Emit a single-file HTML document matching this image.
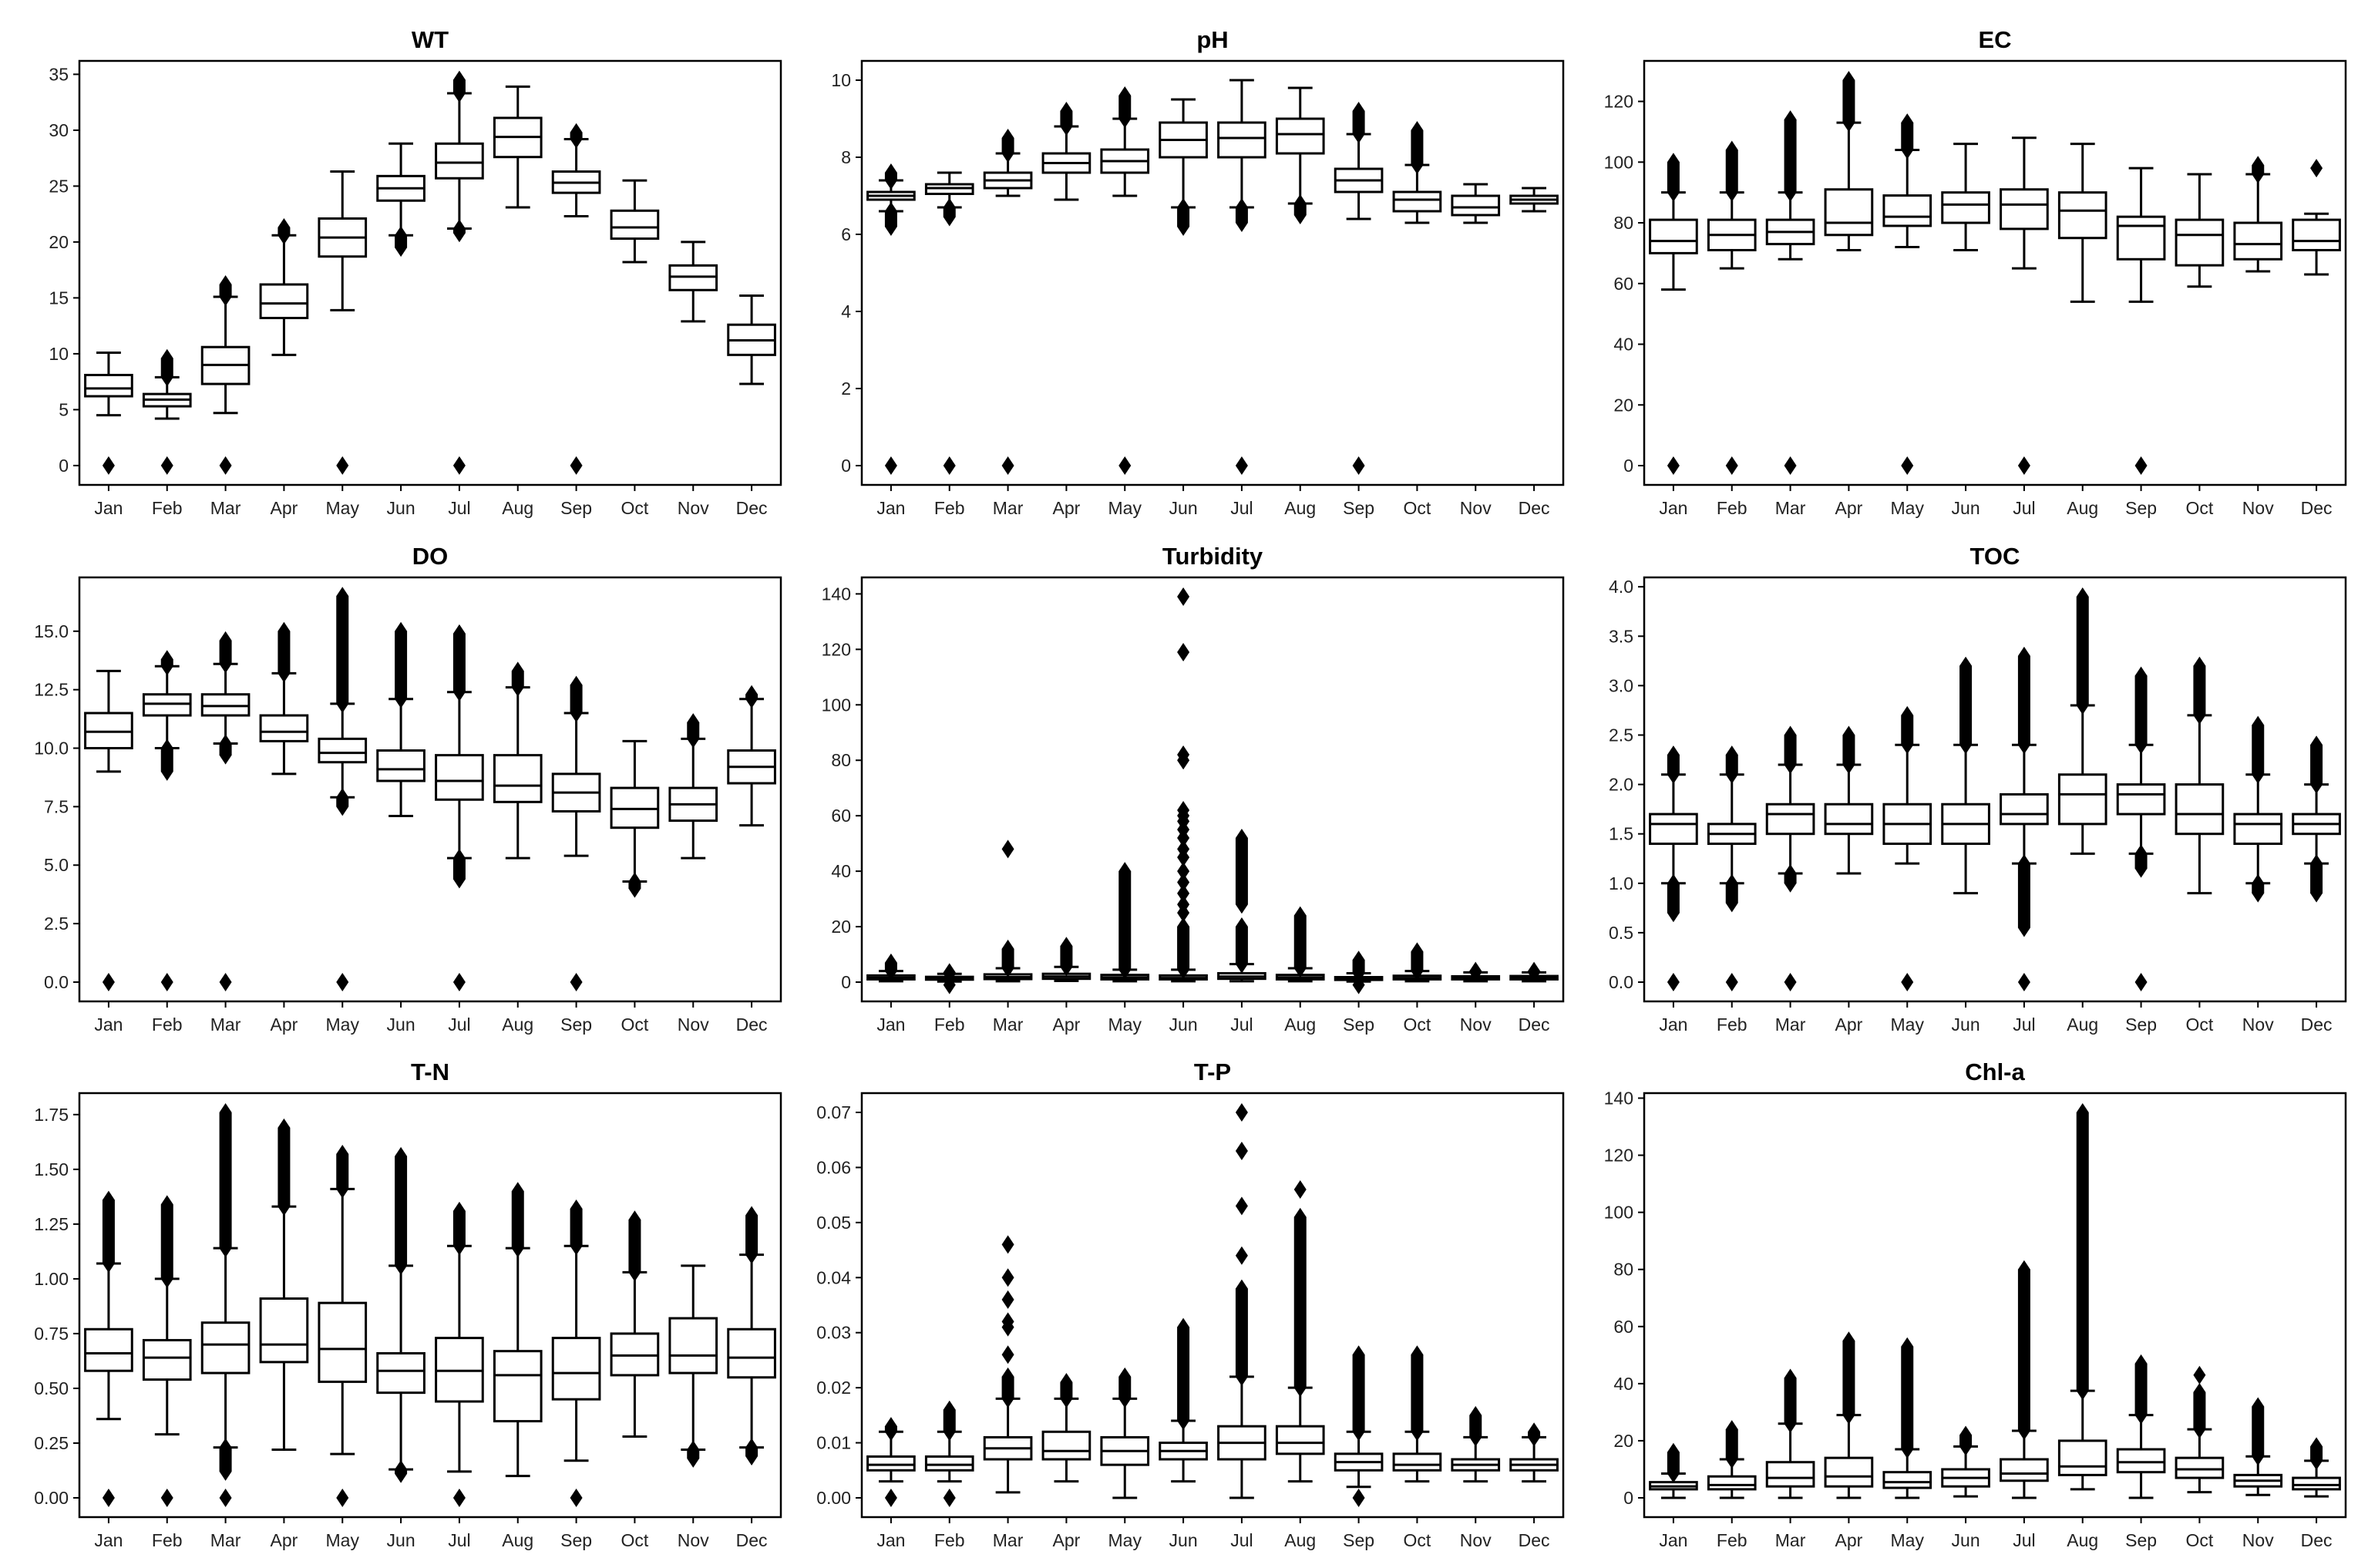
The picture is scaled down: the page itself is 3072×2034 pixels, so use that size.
<!DOCTYPE html>
<html><head><meta charset="utf-8">
<style>
html,body{margin:0;padding:0;background:#fff;}
svg{display:block;font-family:"Liberation Sans","DejaVu Sans",sans-serif;}
</style></head>
<body>
<svg id="fig" width="3072" height="2034" viewBox="0 0 3072 2034" xmlns="http://www.w3.org/2000/svg"></svg>
<script>
const months = ["Jan","Feb","Mar","Apr","May","Jun","Jul","Aug","Sep","Oct","Nov","Dec"];

// WT
const wtLo  = [4.5,4.2,4.7,9.9,13.9,20.6,21.2,23.1,22.3,18.2,12.9,7.3];
const wtQ1  = [6.2,5.3,7.3,13.2,18.7,23.7,25.7,27.6,24.4,20.3,15.7,9.9];
const wtMed = [6.9,5.9,9.0,14.5,20.4,24.8,27.1,29.4,25.3,21.3,16.9,11.2];
const wtQ3  = [8.1,6.4,10.6,16.2,22.1,25.9,28.8,31.1,26.3,22.8,17.9,12.6];
const wtHi  = [10.1,7.9,15.1,20.6,26.3,28.8,33.3,33.9,29.2,25.5,20.0,15.2];
const wtOutHi = [null,9.6,16.2,21.3,null,null,34.5,null,29.8,null,null,null];
const wtOutLo = [null,null,null,null,null,19.5,20.8,null,null,null,null,null];
const wtPoints = [[0,0],[1,0],[2,0],[4,0],[6,0],[8,0]];
const wtTicks = [0,5,10,15,20,25,30,35];
const wtTickLabels = ["0","5","10","15","20","25","30","35"];

// pH
const phLo  = [6.6,6.7,7.0,6.9,7.0,6.7,6.7,6.8,6.4,6.3,6.3,6.6];
const phQ1  = [6.9,7.05,7.2,7.6,7.6,8.0,8.0,8.1,7.1,6.6,6.5,6.8];
const phMed = [7.0,7.2,7.4,7.85,7.9,8.45,8.5,8.6,7.4,6.9,6.7,6.9];
const phQ3  = [7.1,7.3,7.6,8.1,8.2,8.9,8.9,9.0,7.7,7.1,7.0,7.0];
const phHi  = [7.4,7.6,8.1,8.8,9.0,9.5,10.0,9.8,8.6,7.8,7.3,7.2];
const phOutHi = [7.6,null,8.5,9.2,9.6,null,null,null,9.2,8.7,null,null];
const phOutLo = [6.2,6.45,null,null,null,6.2,6.3,6.5,null,null,null,null];
const phPoints = [[0,0],[1,0],[2,0],[4,0],[6,0],[8,0]];
const phTicks = [0,2,4,6,8,10];
const phTickLabels = ["0","2","4","6","8","10"];

// EC
const ecLo  = [58,65,68,71,72,71,65,54,54,59,64,63];
const ecQ1  = [70,71,73,76,79,80,78,75,68,66,68,71];
const ecMed = [74,76,77,80,82,86,86,84,79,76,73,74];
const ecQ3  = [81,81,81,91,89,90,91,90,82,81,80,81];
const ecHi  = [90,90,90,113,104,106,108,106,98,96,96,83];
const ecOutHi = [100,104,114,127,113,null,null,null,null,null,99,null];
const ecOutLo = [null,null,null,null,null,null,null,null,null,null,null,null];
const ecPoints = [[0,0],[1,0],[2,0],[4,0],[6,0],[8,0],[11,98]];
const ecTicks = [0,20,40,60,80,100,120];
const ecTickLabels = ["0","20","40","60","80","100","120"];

// DO
const doLo  = [9.0,10.0,10.2,8.9,7.9,7.1,5.3,5.3,5.4,4.3,5.3,6.7];
const doQ1  = [10.0,11.4,11.4,10.3,9.4,8.6,7.8,7.7,7.3,6.6,6.9,8.5];
const doMed = [10.7,11.9,11.8,10.7,9.8,9.1,8.6,8.4,8.1,7.4,7.6,9.2];
const doQ3  = [11.5,12.3,12.3,11.4,10.4,9.9,9.7,9.7,8.9,8.3,8.3,9.9];
const doHi  = [13.3,13.5,13.6,13.2,11.9,12.1,12.4,12.6,11.5,10.3,10.4,12.1];
const doOutHi = [null,13.8,14.6,15.0,16.5,15.0,14.9,13.3,12.7,null,11.1,12.3];
const doOutLo = [null,9.0,9.7,null,7.5,null,4.4,null,null,4.0,null,null];
const doPoints = [[0,0],[1,0],[2,0],[4,0],[6,0],[8,0]];
const doTicks = [0,2.5,5,7.5,10,12.5,15];
const doTickLabels = ["0.0","2.5","5.0","7.5","10.0","12.5","15.0"];

// Turbidity
const tbLo  = [0.3,0.2,0.3,0.4,0.3,0.3,0.3,0.3,0.2,0.3,0.3,0.3];
const tbQ1  = [1.0,0.9,1.1,1.2,1.0,1.0,1.2,1.0,0.8,1.0,1.0,1.0];
const tbMed = [1.6,1.3,1.8,2.0,1.7,1.5,2.0,1.7,1.2,1.5,1.4,1.5];
const tbQ3  = [2.4,1.9,2.8,3.0,2.6,2.4,3.2,2.6,1.8,2.3,2.1,2.2];
const tbHi  = [4.0,3.0,5.0,5.5,4.5,4.5,6.5,5.0,3.2,4.0,3.5,3.5];
const tbOutHi = [7,3.5,12,13,40,20,20,24,8,11,4,4];
const tbOutLo = [null,null,null,null,null,null,null,null,null,null,null,null];
const tbPoints = [[1,-1],[8,-1],[2,48],[5,25],[5,28],[5,32],[5,36],[5,40],[5,45],[5,48],[5,52],[5,55],[5,58],[5,60],[5,62],[5,80],[5,82],[5,119],[5,139]];
const tbRanges = [[6,28,52]];
const tbTicks = [0,20,40,60,80,100,120,140];
const tbTickLabels = ["0","20","40","60","80","100","120","140"];

// TOC
const tocLo  = [1.0,1.0,1.1,1.1,1.2,0.9,1.2,1.3,1.3,0.9,1.0,1.2];
const tocQ1  = [1.4,1.4,1.5,1.5,1.4,1.4,1.6,1.6,1.7,1.5,1.4,1.5];
const tocMed = [1.6,1.5,1.7,1.6,1.6,1.6,1.7,1.9,1.9,1.7,1.6,1.6];
const tocQ3  = [1.7,1.6,1.8,1.8,1.8,1.8,1.9,2.1,2.0,2.0,1.7,1.7];
const tocHi  = [2.1,2.1,2.2,2.2,2.4,2.4,2.4,2.8,2.4,2.7,2.1,2.0];
const tocOutHi = [2.3,2.3,2.5,2.5,2.7,3.2,3.3,3.9,3.1,3.2,2.6,2.4];
const tocOutLo = [0.7,0.8,1.0,null,null,null,0.55,null,1.15,null,0.9,0.9];
const tocPoints = [[0,0],[1,0],[2,0],[4,0],[6,0],[8,0]];
const tocTicks = [0,0.5,1,1.5,2,2.5,3,3.5,4];
const tocTickLabels = ["0.0","0.5","1.0","1.5","2.0","2.5","3.0","3.5","4.0"];

// T-N
const tnLo  = [0.36,0.29,0.23,0.22,0.20,0.13,0.12,0.10,0.17,0.28,0.22,0.23];
const tnQ1  = [0.58,0.54,0.57,0.62,0.53,0.48,0.44,0.35,0.45,0.56,0.57,0.55];
const tnMed = [0.66,0.64,0.70,0.70,0.68,0.58,0.58,0.56,0.57,0.65,0.65,0.64];
const tnQ3  = [0.77,0.72,0.80,0.91,0.89,0.66,0.73,0.67,0.73,0.75,0.82,0.77];
const tnHi  = [1.07,1.00,1.14,1.33,1.41,1.06,1.15,1.14,1.15,1.03,1.06,1.11];
const tnOutHi = [1.36,1.34,1.76,1.69,1.57,1.56,1.31,1.40,1.32,1.27,null,1.29];
const tnOutLo = [null,null,0.12,null,null,0.11,null,null,null,null,0.18,0.19];
const tnPoints = [[0,0],[1,0],[2,0],[4,0],[6,0],[8,0]];
const tnTicks = [0,0.25,0.5,0.75,1,1.25,1.5,1.75];
const tnTickLabels = ["0.00","0.25","0.50","0.75","1.00","1.25","1.50","1.75"];

// T-P
const tpLo  = [0.003,0.003,0.001,0.003,0.000,0.003,0.000,0.003,0.002,0.003,0.003,0.003];
const tpQ1  = [0.005,0.005,0.007,0.007,0.006,0.007,0.007,0.008,0.005,0.005,0.005,0.005];
const tpMed = [0.006,0.006,0.009,0.0085,0.0085,0.0085,0.010,0.010,0.0065,0.006,0.006,0.006];
const tpQ3  = [0.0075,0.0075,0.011,0.012,0.011,0.010,0.013,0.013,0.008,0.008,0.007,0.007];
const tpHi  = [0.012,0.012,0.018,0.018,0.018,0.014,0.022,0.020,0.012,0.012,0.011,0.011];
const tpOutHi = [0.013,0.016,0.022,0.021,0.022,0.031,0.038,0.051,0.026,0.026,0.015,0.012];
const tpOutLo = [null,null,null,null,null,null,null,null,null,null,null,null];
const tpPoints = [[0,0],[1,0],[8,0],[2,0.026],[2,0.031],[2,0.032],[2,0.036],[2,0.040],[2,0.046],[6,0.044],[6,0.053],[6,0.063],[6,0.070],[7,0.056]];
const tpTicks = [0,0.01,0.02,0.03,0.04,0.05,0.06,0.07];
const tpTickLabels = ["0.00","0.01","0.02","0.03","0.04","0.05","0.06","0.07"];

// Chl-a
const chLo  = [0,0,0,0,0,0.5,0,3,0,2,1,0.5];
const chQ1  = [3,3,4,4,3.5,4,6,8,9,7,4,3];
const chMed = [4,4.5,7,7.5,5.5,7,8.5,11,12.5,10,6,4.5];
const chQ3  = [5.5,7.5,12.5,14,9,10,13.5,20,17,14,8,7];
const chHi  = [8.5,13.5,26,29,17,18,23.5,37.5,29,24,14.5,13];
const chOutHi = [16,24,42,55,53,22,80,135,47,37,32,18];
const chOutLo = [null,null,null,null,null,null,null,null,null,null,null,null];
const chPoints = [[9,43]];
const chTicks = [0,20,40,60,80,100,120,140];
const chTickLabels = ["0","20","40","60","80","100","120","140"];

const panels = [
 {title:"WT",key:"wt",dom:[-1.73,36.2],lo:wtLo,q1:wtQ1,med:wtMed,q3:wtQ3,hi:wtHi,oh:wtOutHi,ol:wtOutLo,pts:wtPoints,rng:[],ticks:wtTicks,tl:wtTickLabels},
 {title:"pH",key:"ph",dom:[-0.5,10.5],lo:phLo,q1:phQ1,med:phMed,q3:phQ3,hi:phHi,oh:phOutHi,ol:phOutLo,pts:phPoints,rng:[],ticks:phTicks,tl:phTickLabels},
 {title:"EC",key:"ec",dom:[-6.35,133.35],lo:ecLo,q1:ecQ1,med:ecMed,q3:ecQ3,hi:ecHi,oh:ecOutHi,ol:ecOutLo,pts:ecPoints,rng:[],ticks:ecTicks,tl:ecTickLabels},
 {title:"DO",key:"do",dom:[-0.825,17.3],lo:doLo,q1:doQ1,med:doMed,q3:doQ3,hi:doHi,oh:doOutHi,ol:doOutLo,pts:doPoints,rng:[],ticks:doTicks,tl:doTickLabels},
 {title:"Turbidity",key:"turbidity",dom:[-6.95,145.95],lo:tbLo,q1:tbQ1,med:tbMed,q3:tbQ3,hi:tbHi,oh:tbOutHi,ol:tbOutLo,pts:tbPoints,rng:tbRanges,ticks:tbTicks,tl:tbTickLabels},
 {title:"TOC",key:"toc",dom:[-0.195,4.095],lo:tocLo,q1:tocQ1,med:tocMed,q3:tocQ3,hi:tocHi,oh:tocOutHi,ol:tocOutLo,pts:tocPoints,rng:[],ticks:tocTicks,tl:tocTickLabels},
 {title:"T-N",key:"tn",dom:[-0.088,1.848],lo:tnLo,q1:tnQ1,med:tnMed,q3:tnQ3,hi:tnHi,oh:tnOutHi,ol:tnOutLo,pts:tnPoints,rng:[],ticks:tnTicks,tl:tnTickLabels},
 {title:"T-P",key:"tp",dom:[-0.0035,0.0735],lo:tpLo,q1:tpQ1,med:tpMed,q3:tpQ3,hi:tpHi,oh:tpOutHi,ol:tpOutLo,pts:tpPoints,rng:[],ticks:tpTicks,tl:tpTickLabels},
 {title:"Chl-a",key:"chla",dom:[-6.75,141.75],lo:chLo,q1:chQ1,med:chMed,q3:chQ3,hi:chHi,oh:chOutHi,ol:chOutLo,pts:chPoints,rng:[],ticks:chTicks,tl:chTickLabels}
];

const NS = "http://www.w3.org/2000/svg";
const svg = document.getElementById("fig");
const COLS = [103,1118,2133], ROWS = [79,749,1418], PW = 910, PH = 550;
const DW = 16, DH = 24;

function mk(parent, tag, attrs, text){
  const e = document.createElementNS(NS, tag);
  for (const k in attrs) e.setAttribute(k, attrs[k]);
  if (text !== undefined) e.textContent = text;
  parent.appendChild(e);
  return e;
}
function diamondPath(cx, yTop, yBot){
  return `M${cx},${yTop-DH/2} L${cx+DW/2},${yTop} L${cx+DW/2},${yBot} L${cx},${yBot+DH/2} L${cx-DW/2},${yBot} L${cx-DW/2},${yTop} Z`;
}

panels.forEach((p, idx) => {
  const L = COLS[idx%3], T = ROWS[Math.floor(idx/3)];
  const yS = v => T + PH - (v - p.dom[0])/(p.dom[1]-p.dom[0])*PH;
  const xS = i => L + (i+0.5)/12*PW;
  const step = PW/12, bw = step*0.8, cw = step*0.42;

  const g = mk(svg, "g", {});
  
  

  const t = mk(g, "text", {x:L+PW/2, y:T-17, "text-anchor":"middle", "font-size":31, "font-weight":"bold", fill:"#000"}, p.title);
  
  

  const frame = mk(g, "rect", {x:L, y:T, width:PW, height:PH, fill:"none", stroke:"#000", "stroke-width":2.5});
  
  

  // y ticks
  p.ticks.forEach((v, i) => {
    const y = yS(v);
    const tk = mk(g, "line", {x1:L-8, x2:L, y1:y, y2:y, stroke:"#000", "stroke-width":2});
    
    
    const lb = mk(g, "text", {x:L-14, y:y+8, "text-anchor":"end", "font-size":23, fill:"#222"}, p.tl[i]);
    
    
  });
  // x ticks
  months.forEach((m, i) => {
    const x = xS(i);
    const tk = mk(g, "line", {x1:x, x2:x, y1:T+PH, y2:T+PH+8, stroke:"#000", "stroke-width":2});
    
    
    const lb = mk(g, "text", {x:x, y:T+PH+38, "text-anchor":"middle", "font-size":23, fill:"#222"}, m);
    
    
  });

  // boxes
  months.forEach((m, i) => {
    const x = xS(i);
    const bg = mk(g, "g", {stroke:"#000", "stroke-width":3, fill:"none"});
    
    
    mk(bg, "line", {x1:x, x2:x, y1:yS(p.hi[i]), y2:yS(p.q3[i])});
    mk(bg, "line", {x1:x, x2:x, y1:yS(p.q1[i]), y2:yS(p.lo[i])});
    mk(bg, "line", {x1:x-cw/2, x2:x+cw/2, y1:yS(p.hi[i]), y2:yS(p.hi[i])});
    mk(bg, "line", {x1:x-cw/2, x2:x+cw/2, y1:yS(p.lo[i]), y2:yS(p.lo[i])});
    const yq3 = yS(p.q3[i]), yq1 = yS(p.q1[i]);
    mk(bg, "rect", {x:x-bw/2, y:yq3, width:bw, height:Math.max(yq1-yq3,1), fill:"#fff"});
    mk(bg, "line", {x1:x-bw/2, x2:x+bw/2, y1:yS(p.med[i]), y2:yS(p.med[i])});

    if (p.oh[i] !== null && p.oh[i] !== undefined){
      const o = mk(g, "path", {d:diamondPath(x, yS(p.oh[i]), yS(p.hi[i])), fill:"#000"});
      
      
    }
    if (p.ol[i] !== null && p.ol[i] !== undefined){
      const o = mk(g, "path", {d:diamondPath(x, yS(p.lo[i]), yS(p.ol[i])), fill:"#000"});
      
      
    }
  });
  p.rng.forEach(r => {
    const o = mk(g, "path", {d:diamondPath(xS(r[0]), yS(r[2]), yS(r[1])), fill:"#000"});
    
    
  });
  p.pts.forEach(pt => {
    const y = yS(pt[1]);
    const o = mk(g, "path", {d:diamondPath(xS(pt[0]), y, y), fill:"#000"});
    
    
  });
});
</script>
</body></html>
